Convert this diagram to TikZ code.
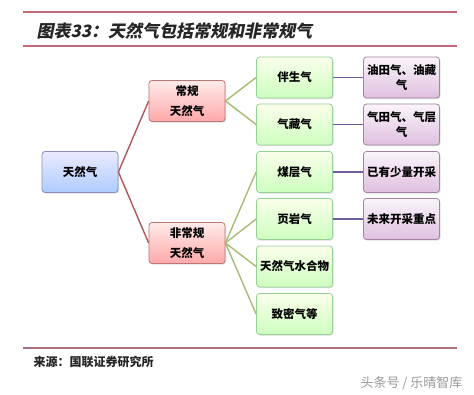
\documentclass[tikz,border=0pt]{standalone}
\usepackage{fontspec}
\newfontfamily\cjk{Noto Sans CJK SC}
\newfontfamily\cjktitle[FakeSlant=0.2]{Noto Sans CJK SC}
\usetikzlibrary{shadows}
\definecolor{rulered}{HTML}{C06878}
\definecolor{linered}{HTML}{B05858}
\definecolor{linegreen}{HTML}{A4BC74}
\definecolor{linepurple}{HTML}{6E5E9E}
\tikzset{
  box/.style={rounded corners=3pt, minimum width=76pt, minimum height=41pt, align=center,
    font=\cjk\bfseries\fontsize{11.5}{15}\selectfont, line width=0.8pt,
    drop shadow={opacity=0.25, shadow xshift=1pt, shadow yshift=-1.2pt}},
  rootbox/.style={box, draw=blue!30!gray!70, top color=blue!8, bottom color=blue!30!cyan!20!white!85!blue},
  redbox/.style={box, draw=red!35!gray!80, top color=red!8, bottom color=red!34, font=\cjk\bfseries\fontsize{11.5}{20}\selectfont},
  greenbox/.style={box, draw=green!40!gray!60, top color=lime!8!white, bottom color=lime!30!green!25!white},
  purplebox/.style={box, draw=violet!40!gray!70, top color=violet!4, bottom color=violet!25},
  link/.style={line width=1.4pt},
}
\begin{document}
\begin{tikzpicture}[x=1pt, y=-1pt]
\useasboundingbox (0,0) rectangle (474,395);
% title and rules
\draw[rulered, line width=1.2pt] (23,12) -- (457,12);
\node[anchor=west, font=\cjktitle\bfseries\fontsize{17}{17}\selectfont, text=black!85] (title) at (33,31) {图表33：天然气包括常规和非常规气};
\draw[rulered, line width=1.2pt] (23,46) -- (457,46);
% boxes
\node[rootbox] (gas) at (80,172) {天然气};
\node[redbox] (conv) at (187,101) {常规\\天然气};
\node[redbox] (unconv) at (187,243) {非常规\\天然气};
\node[greenbox] (assoc) at (294.5,77.5) {伴生气};
\node[greenbox] (reserv) at (294.5,124.5) {气藏气};
\node[greenbox] (coal) at (294.5,172) {煤层气};
\node[greenbox] (shale) at (294.5,219) {页岩气};
\node[greenbox] (hydrate) at (294.5,266.5) {天然气水合物};
\node[greenbox] (tight) at (294.5,314) {致密气等};
\node[purplebox] (oilfield) at (401.5,77.5) {油田气、油藏\\气};
\node[purplebox] (gasfield) at (401.5,124.5) {气田气、气层\\气};
\node[purplebox] (mined) at (401.5,172) {已有少量开采};
\node[purplebox] (future) at (401.5,219) {未来开采重点};
% connectors
\draw[linered, link] (gas.east) -- (conv.west);
\draw[linered, link] (gas.east) -- (unconv.west);
\foreach \g in {assoc, reserv}
  \draw[linegreen, link] (conv.east) -- (\g.west);
\foreach \g in {coal, shale, hydrate, tight}
  \draw[linegreen, link] (unconv.east) -- (\g.west);
\draw[linepurple, link, line width=1.8pt] (assoc.east) -- (oilfield.west);
\draw[linepurple, link, line width=1.8pt] (reserv.east) -- (gasfield.west);
\draw[linepurple, link, line width=1.8pt] (coal.east) -- (mined.west);
\draw[linepurple, link, line width=1.8pt] (shale.east) -- (future.west);
% footer
\draw[rulered!70!gray, line width=1.2pt] (23,348) -- (457,348);
\node[anchor=west, font=\cjk\bfseries\fontsize{12}{12}\selectfont, text=black!85] (source) at (30,362) {来源：国联证券研究所};
\node[anchor=east, font=\cjk\fontsize{13}{13}\selectfont, text=black!40] (mark) at (466,383) {头条号 / 乐晴智库};
\end{tikzpicture}
\end{document}
